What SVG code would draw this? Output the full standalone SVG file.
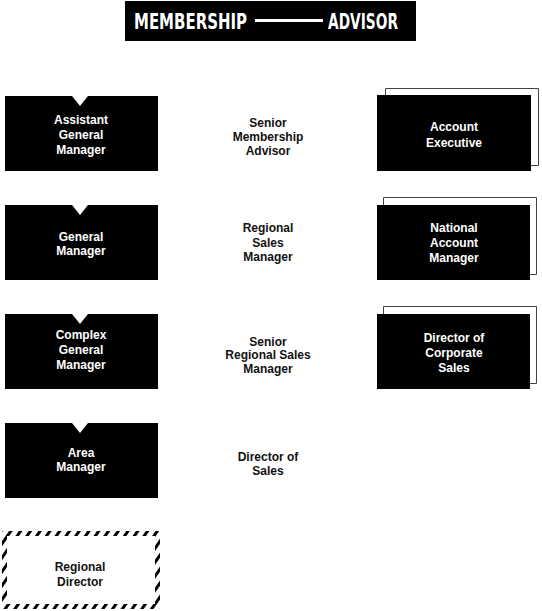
<svg xmlns="http://www.w3.org/2000/svg" width="542" height="611" viewBox="0 0 542 611">
<defs>
<style>
.box{fill:#000}
.notch{fill:#fff}
.back{fill:none;stroke:#444;stroke-width:1}
.wt{fill:#fff;font-family:"Liberation Sans",Arial,sans-serif;font-weight:bold;font-size:12px;text-anchor:middle}
.bt{fill:#111;font-family:"Liberation Sans",Arial,sans-serif;font-weight:bold;font-size:12px;text-anchor:middle}
.title{fill:#fff;font-family:"DejaVu Sans Condensed","DejaVu Sans",sans-serif;font-weight:bold;font-size:22px;font-stretch:condensed}
</style>
<pattern id="hatch" patternUnits="userSpaceOnUse" width="8" height="8" patternTransform="rotate(35)">
<rect x="0" y="0" width="3" height="8" fill="#000"/>
</pattern>
</defs>
<rect width="542" height="611" fill="#fff"/>
<g id="title">
<rect x="125" y="1" width="291" height="40" fill="#000"/>
<text class="title" x="134" y="29" textLength="113" lengthAdjust="spacingAndGlyphs">MEMBERSHIP</text>
<rect x="255" y="19" width="68" height="3" fill="#fff"/>
<text class="title" x="328" y="29" textLength="70" lengthAdjust="spacingAndGlyphs">ADVISOR</text>
</g>
<g id="connectors"></g>
<g id="assistant-general-manager">
<rect class="box" x="5" y="96" width="153" height="75"/>
<polygon class="notch" points="72,96 88,96 80,106"/>
<text class="wt" x="81" y="124">Assistant</text>
<text class="wt" x="81" y="139">General</text>
<text class="wt" x="81" y="154">Manager</text>
</g>
<g id="general-manager">
<rect class="box" x="5" y="205" width="153" height="75"/>
<polygon class="notch" points="72,205 88,205 80,215"/>
<text class="wt" x="81" y="241">General</text>
<text class="wt" x="81" y="255">Manager</text>
</g>
<g id="complex-general-manager">
<rect class="box" x="5" y="314" width="153" height="75"/>
<polygon class="notch" points="72,314 88,314 80,324"/>
<text class="wt" x="81" y="339">Complex</text>
<text class="wt" x="81" y="354">General</text>
<text class="wt" x="81" y="369">Manager</text>
</g>
<g id="area-manager">
<rect class="box" x="5" y="423" width="153" height="75"/>
<polygon class="notch" points="72,423 88,423 80,433"/>
<text class="wt" x="81" y="457">Area</text>
<text class="wt" x="81" y="471">Manager</text>
</g>
<g id="regional-director">
<path fill="url(#hatch)" fill-rule="evenodd" d="M2,531 H160 V609 H2 Z M7,536 V604 H155 V536 Z"/>
<text class="bt" x="80" y="571">Regional</text>
<text class="bt" x="80" y="586">Director</text>
</g>
<g id="senior-membership-advisor">
<text class="bt" x="268" y="127">Senior</text>
<text class="bt" x="268" y="141">Membership</text>
<text class="bt" x="268" y="155">Advisor</text>
</g>
<g id="regional-sales-manager">
<text class="bt" x="268" y="232">Regional</text>
<text class="bt" x="268" y="247">Sales</text>
<text class="bt" x="268" y="261">Manager</text>
</g>
<g id="senior-regional-sales-manager">
<text class="bt" x="268" y="346">Senior</text>
<text class="bt" x="268" y="359">Regional Sales</text>
<text class="bt" x="268" y="373">Manager</text>
</g>
<g id="director-of-sales">
<text class="bt" x="268" y="461">Director of</text>
<text class="bt" x="268" y="475">Sales</text>
</g>
<g id="account-executive">
<polyline class="back" points="385.5,95 385.5,88.5 538.5,88.5 538.5,165.5 531,165.5"/>
<rect class="box" x="377" y="95" width="154" height="76"/>
<text class="wt" x="454" y="131">Account</text>
<text class="wt" x="454" y="147">Executive</text>
</g>
<g id="national-account-manager">
<polyline class="back" points="383.5,205 383.5,197.5 536.5,197.5 536.5,274.5 530,274.5"/>
<rect class="box" x="377" y="205" width="153" height="75"/>
<text class="wt" x="454" y="232">National</text>
<text class="wt" x="454" y="247">Account</text>
<text class="wt" x="454" y="262">Manager</text>
</g>
<g id="director-of-corporate-sales">
<polyline class="back" points="383.5,314 383.5,306.5 536.5,306.5 536.5,383.5 530,383.5"/>
<rect class="box" x="377" y="314" width="153" height="75"/>
<text class="wt" x="454" y="342">Director of</text>
<text class="wt" x="454" y="357">Corporate</text>
<text class="wt" x="454" y="372">Sales</text>
</g>
</svg>
